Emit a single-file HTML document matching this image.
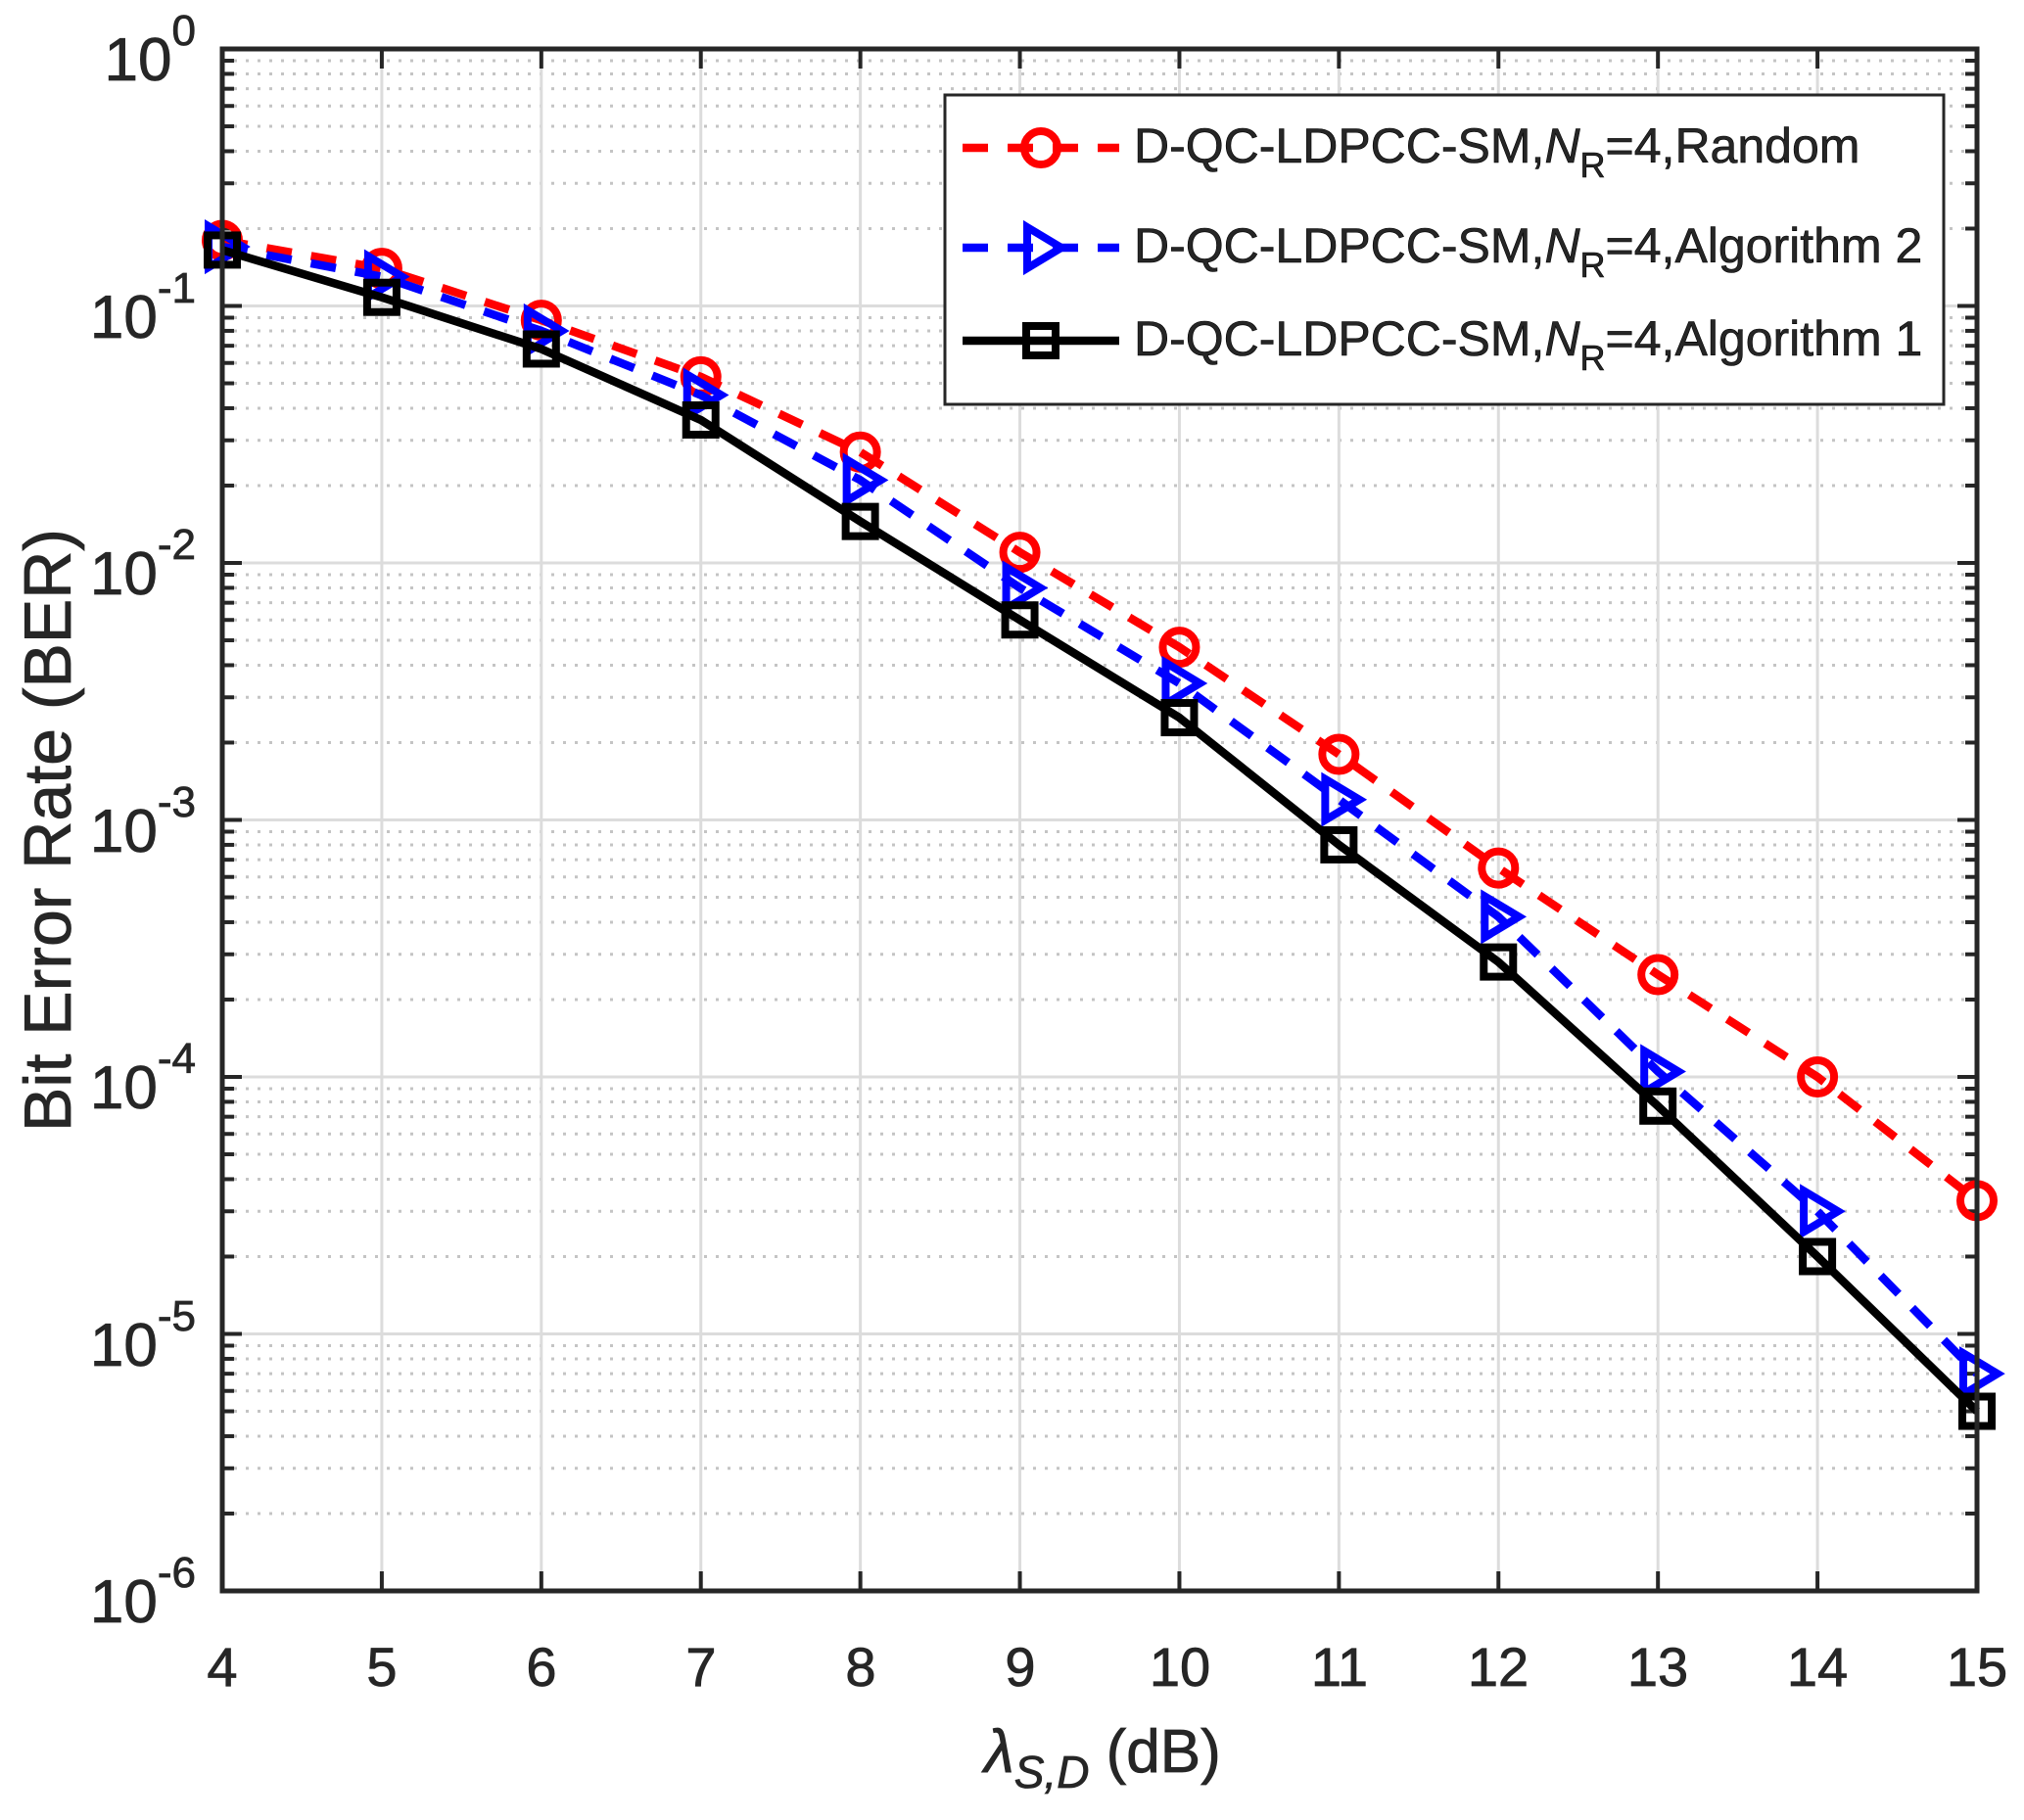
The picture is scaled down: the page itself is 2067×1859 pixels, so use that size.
<!DOCTYPE html>
<html><head><meta charset="utf-8"><style>
html,body{margin:0;padding:0;background:#fff}
svg{display:block}
text{font-family:"Liberation Sans",Arial,sans-serif;fill:#262626}
</style></head><body>
<svg id="s" width="2067" height="1859" viewBox="0 0 2067 1859" xmlns="http://www.w3.org/2000/svg">
<g id="grid"></g>
<g id="series"></g>
<rect x="227" y="50" width="1792" height="1575" fill="none" stroke="#262626" stroke-width="5"/>
<g font-size="56" text-anchor="middle" stroke="#262626" stroke-width="0.8">
<text x="227" y="1722">4</text><text x="390" y="1722">5</text><text x="553" y="1722">6</text><text x="716" y="1722">7</text><text x="879" y="1722">8</text><text x="1042" y="1722">9</text><text x="1205" y="1722">10</text><text x="1368" y="1722">11</text><text x="1530" y="1722">12</text><text x="1693" y="1722">13</text><text x="1856" y="1722">14</text><text x="2019" y="1722">15</text>
</g>
<g font-size="62" text-anchor="end" stroke="#262626" stroke-width="0.8">
<text x="200" y="82">10<tspan font-size="44" dy="-36">0</tspan></text>
<text x="200" y="345">10<tspan font-size="44" dy="-36">-1</tspan></text>
<text x="200" y="607">10<tspan font-size="44" dy="-36">-2</tspan></text>
<text x="200" y="870">10<tspan font-size="44" dy="-36">-3</tspan></text>
<text x="200" y="1132">10<tspan font-size="44" dy="-36">-4</tspan></text>
<text x="200" y="1395">10<tspan font-size="44" dy="-36">-5</tspan></text>
<text x="200" y="1657">10<tspan font-size="44" dy="-36">-6</tspan></text>
</g>
<text x="1126" y="1810" font-size="62" text-anchor="middle" stroke="#262626" stroke-width="0.8"><tspan font-style="italic">λ</tspan><tspan font-style="italic" font-size="46" dy="16">S,D</tspan><tspan dy="-16"> (dB)</tspan></text>
<text transform="translate(72,848) rotate(-90)" font-size="68" text-anchor="middle" stroke="#262626" stroke-width="0.8">Bit Error Rate (BER)</text>
<rect x="965" y="97" width="1020" height="316" fill="#fff" stroke="#262626" stroke-width="3"/>
<g id="leg"></g>
<g font-size="50" stroke="#000" stroke-width="0.6">
<text x="1158" y="166" fill="#000">D-QC-LDPCC-SM,<tspan font-style="italic">N</tspan><tspan font-size="36" dy="15">R</tspan><tspan dy="-15">=4,Random</tspan></text>
<text x="1158" y="268" fill="#000">D-QC-LDPCC-SM,<tspan font-style="italic">N</tspan><tspan font-size="36" dy="15">R</tspan><tspan dy="-15">=4,Algorithm 2</tspan></text>
<text x="1158" y="363" fill="#000">D-QC-LDPCC-SM,<tspan font-style="italic">N</tspan><tspan font-size="36" dy="15">R</tspan><tspan dy="-15">=4,Algorithm 1</tspan></text>
</g>
</svg>
<script>
var NS="http://www.w3.org/2000/svg";
function el(p,t,a){var e=document.createElementNS(NS,t);for(var k in a)e.setAttribute(k,a[k]);p.appendChild(e);return e;}
var X0=227,X1=2019,Y0=50,D=262.5,step=(X1-X0)/11;
function X(v){return X0+(v-4)*step;}
function Y(v){return Y0-Math.log10(v)*D;}
var g=document.getElementById('grid');
for(var d=0;d<6;d++){for(var m=2;m<=9;m++){var y=Y(m*Math.pow(10,-d-1));
el(g,'line',{x1:X0,x2:X1,y1:y,y2:y,stroke:'#c4c4c4','stroke-width':3,'stroke-dasharray':'3 9'});
el(g,'line',{x1:X0,x2:X0+12,y1:y,y2:y,stroke:'#262626','stroke-width':4});
el(g,'line',{x1:X1-12,x2:X1,y1:y,y2:y,stroke:'#262626','stroke-width':4});}}
for(var d=1;d<6;d++){var y=Y(Math.pow(10,-d));el(g,'line',{x1:X0,x2:X1,y1:y,y2:y,stroke:'#dcdcdc','stroke-width':3});
el(g,'line',{x1:X0,x2:X0+20,y1:y,y2:y,stroke:'#262626','stroke-width':4});el(g,'line',{x1:X1-20,x2:X1,y1:y,y2:y,stroke:'#262626','stroke-width':4});}
for(var i=5;i<15;i++){var x=X(i);el(g,'line',{x1:x,x2:x,y1:Y0,y2:Y0+1575,stroke:'#dcdcdc','stroke-width':3});
el(g,'line',{x1:x,x2:x,y1:Y0,y2:Y0+20,stroke:'#262626','stroke-width':4});el(g,'line',{x1:x,x2:x,y1:Y0+1555,y2:Y0+1575,stroke:'#262626','stroke-width':4});}
var data=[
{c:'#ff0000',dash:'26 20',m:'o',v:[0.18,0.14,0.088,0.053,0.027,0.011,0.0047,0.0018,0.00065,0.00025,0.0001,3.3e-5]},
{c:'#0000ff',dash:'26 20',m:'t',v:[0.17,0.13,0.08,0.045,0.021,0.008,0.0034,0.0012,0.00042,0.000105,3e-5,7e-6]},
{c:'#000000',dash:'',m:'s',v:[0.165,0.108,0.068,0.036,0.0145,0.006,0.0025,0.0008,0.00028,7.7e-5,2e-5,5e-6]}];
function marker(p,t,x,y,c){
if(t=='o')el(p,'circle',{cx:x,cy:y,r:17,fill:'none',stroke:c,'stroke-width':8});
else if(t=='t')el(p,'polygon',{points:(x-14)+','+(y-21)+' '+(x+21)+','+y+' '+(x-14)+','+(y+21),fill:'none',stroke:c,'stroke-width':8});
else el(p,'rect',{x:x-15,y:y-15,width:30,height:30,fill:'none',stroke:c,'stroke-width':8});}
var s=document.getElementById('series');
data.forEach(function(d){var pts=d.v.map(function(v,i){return X(4+i)+','+Y(v);}).join(' ');
var a={points:pts,fill:'none',stroke:d.c,'stroke-width':8.5,'stroke-linejoin':'round'};if(d.dash)a['stroke-dasharray']=d.dash;el(s,'polyline',a);
d.v.forEach(function(v,i){marker(s,d.m,X(4+i),Y(v),d.c);});});
var L=document.getElementById('leg');var ly=[151,253,348];
data.forEach(function(d,i){var a={x1:983,x2:1143,y1:ly[i],y2:ly[i],stroke:d.c,'stroke-width':8.5};if(d.dash)a['stroke-dasharray']=d.dash;el(L,'line',a);marker(L,d.m,1063,ly[i],d.c);});
</script>
</body></html>
